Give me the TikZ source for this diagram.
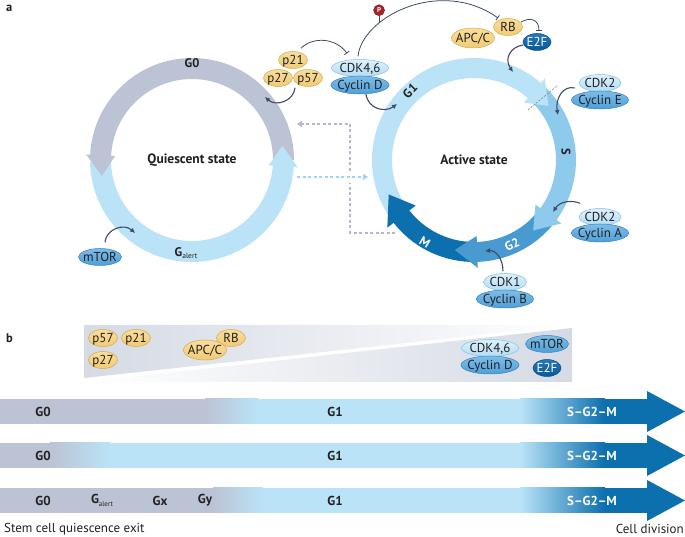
\documentclass[tikz,border=0pt]{standalone}
\usepackage{fontspec}
\setmainfont{PT Sans}
\usetikzlibrary{shapes.geometric,arrows.meta}
\definecolor{qgray}{HTML}{BCC3D4}
\definecolor{lblue}{HTML}{BAE3F7}
\definecolor{sblue}{HTML}{8DCAEC}
\definecolor{gblue}{HTML}{4A9AD2}
\definecolor{mblue}{HTML}{0C6FAE}
\definecolor{ylw}{HTML}{F0CB74}
\definecolor{ylwl}{HTML}{F8DE9C}
\definecolor{ylwd}{HTML}{D6A84C}
\definecolor{cdkt}{HTML}{DDF1FC}
\definecolor{cdkl}{HTML}{B4DDF5}
\definecolor{cdkd}{HTML}{7FC0E8}
\definecolor{cyct}{HTML}{7DBDE8}
\definecolor{cycl}{HTML}{4F9FD8}
\definecolor{cycd}{HTML}{3584C2}
\definecolor{e2ft}{HTML}{2478BA}
\definecolor{e2fb}{HTML}{0B5796}
\definecolor{e2fd}{HTML}{0A4C84}
\definecolor{txt}{HTML}{231F20}
\definecolor{con}{HTML}{3D4B68}
\definecolor{dgray}{HTML}{B3B8CC}
\definecolor{dblue}{HTML}{9DD5F2}
\definecolor{pred}{HTML}{A3232A}
\definecolor{bgray}{HTML}{D5DAE4}
\newcommand\elf{\fontsize{13}{15}\selectfont}
\newcommand\lbf{\fontsize{12.5}{14}\selectfont\bfseries}
\newcommand\stf{\fontsize{13.5}{15}\selectfont\bfseries}
\newcommand\brf{\fontsize{13}{15}\selectfont\bfseries}
\newcommand\eltxt[1]{\makebox[0pt]{\raisebox{-0.34em}[0pt][0pt]{#1}}}
\newcommand\ringbody[5]{\fill[#5,shift={(#1,#2)}] (#3:\Ro) arc[start angle=#3,end angle=#4,radius=\Ro] -- (#4:\Ri) arc[start angle=#4,end angle=#3,radius=\Ri] -- cycle;}
\newcommand\ringhead[6]{\fill[#5,shift={(#1,#2)}] (#3:{\Ro+#6}) -- (#4:\Rm) -- (#3:{\Ri-#6}) -- cycle;}
\newcommand\phasebar[3]{%
  \fill[qgray] (0,#1) rectangle (#2+0.5,#1+25);
  \shade[left color=qgray,right color=lblue] (#2,#1) rectangle (#3,#1+25);
  \fill[lblue] (#3-0.5,#1) rectangle (520.5,#1+25);
  \shade[left color=lblue,right color=mblue] (520,#1) rectangle (605,#1+25);
  \fill[mblue] (604.5,#1) rectangle (647.5,#1+25);
  \fill[mblue] (647,#1-8) -- (685,#1+12.5) -- (647,#1+33) -- cycle;}
\begin{document}
\begin{tikzpicture}[x=1pt,y=1pt,
  yel/.style={ellipse,draw=ylwd,line width=0.5pt,top color=ylwl,bottom color=ylw,inner sep=0pt,minimum width=29pt,minimum height=17pt,font=\elf,text=txt},
  cdk/.style={ellipse,draw=cdkd,line width=0.5pt,top color=cdkt,bottom color=cdkl,inner sep=0pt,minimum height=17pt,font=\elf,text=txt},
  cyc/.style={ellipse,draw=cycd,line width=0.5pt,top color=cyct,bottom color=cycl,inner sep=0pt,minimum height=18pt,font=\elf,text=txt},
  etf/.style={ellipse,draw=e2fd,line width=0.5pt,top color=e2ft,bottom color=e2fb,inner sep=0pt,minimum width=28pt,minimum height=17pt,font=\elf,text=white},
  arr/.style={draw=con,line width=1.1pt,-{Latex[length=5pt,width=5pt]}},
  inh/.style={draw=con,line width=0.8pt,-{Bar[width=6pt]}},
  dgr/.style={draw=dgray,line width=1.3pt,dash pattern=on 3pt off 2.5pt},
  dbl/.style={draw=dblue,line width=1.3pt,dash pattern=on 3pt off 2.5pt},
  lab/.style={font=\lbf,text=txt,inner sep=0pt},
  wlab/.style={font=\lbf,text=white,inner sep=0pt},
  stlab/.style={font=\stf,text=txt,inner sep=0pt},
  blab/.style={font=\brf,text=txt,inner sep=0pt},
  bwlab/.style={font=\brf,text=white,inner sep=0pt},
  plain/.style={font=\elf,text=txt,inner sep=0pt}]
\useasboundingbox (0,0) rectangle (685,537);

% ---------- panel a ----------
\node[lab,anchor=west] (la) at (6,529) {a};

% quiescent ring
\def\Ro{102}\def\Ri{81}\def\Rm{91.5}
\ringbody{192}{377}{0}{177.5}{qgray}
\ringbody{192}{377}{181}{356.5}{lblue}
\ringhead{192}{377}{177}{190}{qgray}{4}
\ringhead{192}{377}{356}{369}{lblue}{4}
\node[lab] (qg0) at (192,474) {G0};
\node[lab] (qga) at (186,284) {G\raisebox{-2.5pt}{\fontsize{7.5}{8}\selectfont\mdseries alert}};
\node[stlab] (qst) at (192,377) {Quiescent state};

% active ring
\def\Ro{102}\def\Ri{82}\def\Rm{92}
\ringbody{474}{377}{212}{48.5}{lblue}
\ringbody{474}{377}{45}{-36.5}{sblue}
\ringbody{474}{377}{-39}{-88.5}{gblue}
\ringbody{474}{377}{-92}{-142.5}{mblue}
\ringhead{474}{377}{49}{36}{lblue}{6}
\ringhead{474}{377}{-36}{-50}{sblue}{6}
\ringhead{474}{377}{-88}{-102}{gblue}{6}
\ringhead{474}{377}{-142}{-158}{mblue}{8}
\node[lab,rotate=45] (ag1l) at (410,446) {G1};
\node[lab,rotate=-90] (asl) at (566,385) {S};
\node[wlab,rotate=24] (ag2l) at (512,292) {G2};
\node[wlab,rotate=-31] (aml) at (425,295) {M};
\node[stlab] (ast) at (474,377) {Active state};

% G1/S boundary
\coordinate (bd1) at (528,427);
\coordinate (bd2) at (558,452);
\draw[gray,line width=0.6pt,dash pattern=on 2pt off 1.5pt] (bd1) -- (bd2);

% dashed links between the states
\coordinate (qr1) at (297,413);
\coordinate (qr2) at (297,360);
\coordinate (ar1) at (368,360);
\coordinate (ar2) at (395,304);
\coordinate (dc1) at (350,304);
\coordinate (dc2) at (350,354);
\coordinate (dc3) at (350,366);
\coordinate (dc4) at (350,413);
\draw[dgr] (ar2) -- (dc1) -- (dc2);
\draw[dgr,-{Triangle[length=5pt,width=6pt]}] (dc3) -- (dc4) -- (qr1);
\draw[dbl,-{Triangle[length=5pt,width=6pt]}] (qr2) -- (ar1);

% molecules
\node[yel] (p21) at (293,477) {\eltxt{p21}};
\node[yel] (p27) at (278,459) {\eltxt{p27}};
\node[yel] (p57) at (308,459) {\eltxt{p57}};
\node[cdk,minimum width=57pt] (cdk46) at (360,469) {\eltxt{CDK4,6}};
\node[cyc,minimum width=58pt] (cycd) at (360,452) {\eltxt{Cyclin D}};
\node[yel,minimum width=43pt,minimum height=20pt] (apc) at (473,499) {\eltxt{APC/C}};
\node[yel] (rb) at (508,510) {\eltxt{RB}};
\node[etf] (e2f) at (537,495) {\eltxt{E2F}};
\node[cdk,minimum width=42pt] (cdk2e) at (600,454) {\eltxt{CDK2}};
\node[cyc,minimum width=57pt] (cyce) at (600,437) {\eltxt{Cyclin E}};
\node[cdk,minimum width=42pt] (cdk2a) at (600,320) {\eltxt{CDK2}};
\node[cyc,minimum width=57pt] (cyca) at (600,304) {\eltxt{Cyclin A}};
\node[cdk,minimum width=43pt] (cdk1) at (505,255) {\eltxt{CDK1}};
\node[cyc,minimum width=57pt] (cycb) at (505,238) {\eltxt{Cyclin B}};
\node[cyc,minimum width=43pt,minimum height=17pt] (mtorq) at (100,280) {\eltxt{mTOR}};

% connectors
\coordinate (qm) at (135,304);
\coordinate (qp) at (265,440);
\coordinate (ag1) at (397,433);
\coordinate (ae2f) at (513,465);
\coordinate (ase) at (558,422);
\coordinate (asa) at (553,325);
\coordinate (ag2) at (485,286);
\draw[arr] ([xshift=5pt,yshift=6pt]mtorq.north) .. controls (106,308) and (124,314) .. (qm);
\draw[arr] ([xshift=-13pt,yshift=-1pt]p57.south) .. controls (294,436) and (276,430) .. (qp);
\draw[inh] ([xshift=8pt,yshift=3pt]p21.north) .. controls (312,500) and (335,500) .. ([xshift=-13pt,yshift=6pt]cdk46.north);
\draw[inh] ([xshift=-2pt,yshift=3pt]cdk46.north) .. controls (362,520) and (440,560) .. ([xshift=-10pt,yshift=9pt]rb.center) coordinate[pos=0.3] (pp);
\draw[con,line width=0.8pt] (pp) -- ++(0,7) coordinate (ppt);
\node[circle,fill=pred,draw=pred!70!black,line width=0.4pt,inner sep=0pt,minimum size=11pt,text=white,font=\fontsize{7}{7}\selectfont\bfseries,anchor=south] (pnode) at (ppt) {P};
\draw[inh] ([xshift=13pt,yshift=5pt]rb.center) .. controls (530,520) and (539,518) .. ([xshift=2pt,yshift=2pt]e2f.north);
\draw[arr] ([xshift=-14pt,yshift=-3pt]e2f.center) .. controls (510,490) and (504,478) .. (ae2f);
\draw[arr] ([xshift=6pt]cycd.south) .. controls (368,428) and (385,424) .. (ag1);
\draw[arr] ([xshift=-4pt,yshift=-5pt]cdk2e.west) .. controls (563,452) and (555,438) .. (ase);
\draw[arr] ([xshift=-20pt,yshift=5pt]cdk2a.north) .. controls (572,337) and (560,336) .. (asa);
\draw[arr] ([xshift=-2pt,yshift=2pt]cdk1.north) .. controls (503,278) and (496,287) .. (ag2);

% ---------- panel b ----------
\node[lab,anchor=west] (lb) at (6,199) {b};
\shade[left color=bgray,right color=white] (84,212) -- (572,212) -- (84,159) -- cycle;
\shade[left color=white,right color=bgray] (84,155) -- (572,209) -- (572,155) -- cycle;
\node[yel] (bp57) at (103,199) {\eltxt{p57}};
\node[yel] (bp21) at (136,199) {\eltxt{p21}};
\node[yel] (bp27) at (103,177) {\eltxt{p27}};
\node[yel] (brb) at (231,199) {\eltxt{RB}};
\node[yel,minimum width=43pt,minimum height=20pt] (bapc) at (205,187) {\eltxt{APC/C}};
\node[cdk,minimum width=57pt] (bcdk) at (490,189) {\eltxt{CDK4,6}};
\node[cyc,minimum width=58pt] (bcycd) at (490,172) {\eltxt{Cyclin D}};
\node[cyc,minimum width=43pt,minimum height=17pt] (bmtor) at (547,193) {\eltxt{mTOR}};
\node[etf] (be2f) at (547,169) {\eltxt{E2F}};

% bars
\phasebar{113}{205}{258}
\phasebar{69}{50}{110}
\phasebar{24}{213}{263}
\node[blab] (b1g0) at (43,125.5) {G0};
\node[blab] (b1g1) at (335,125.5) {G1};
\node[bwlab] (b1s) at (592,125.5) {S--G2--M};
\node[blab] (b2g0) at (43,81.5) {G0};
\node[blab] (b2g1) at (335,81.5) {G1};
\node[bwlab] (b2s) at (592,81.5) {S--G2--M};
\node[blab] (b3g0) at (43,36.5) {G0};
\node[blab] (b3ga) at (102,36.5) {G\raisebox{-2.5pt}{\fontsize{7}{8}\selectfont\mdseries alert}};
\node[blab] (b3gx) at (160,36.5) {Gx};
\node[blab] (b3gy) at (205,36.5) {Gy};
\node[blab] (b3g1) at (335,36.5) {G1};
\node[bwlab] (b3s) at (592,36.5) {S--G2--M};
\node[plain,anchor=west] (exit) at (4,8) {Stem cell quiescence exit};
\node[plain,anchor=east] (div) at (684,8) {Cell division};
\end{tikzpicture}
\end{document}
